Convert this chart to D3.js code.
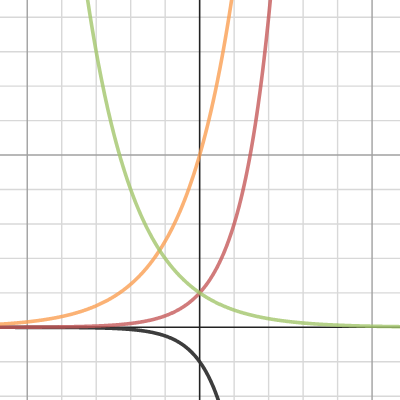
<!DOCTYPE html>
<html><head><meta charset="utf-8">
<script src="https://cdn.jsdelivr.net/npm/d3@7"></script>
<style>html,body{margin:0;padding:0;background:#fff;}svg{display:block;}</style>
</head><body>
<script>
// Domain (units)
const xDomain = [-5.79, 5.81];
const yDomain = [-2.11, 9.5];
const minorStep = 1;
const majorStep = 5;
// Functions (series), drawn bottom to top
const seriesNames = ["-4^x", "5·2^x", "3^x", "2^-x"];
const seriesBase = [4, 2, 3, 0.5];
const seriesCoef = [-1, 5, 1, 1];
const seriesColors = ["#333333", "#fa9f52", "#c55a5a", "#a3c56c"];
const seriesOpacity = [0.95, 0.8, 0.8, 0.8];

const W = 400, H = 400;
const svg = d3.select("body").append("svg").attr("width", W).attr("height", H);
const x = d3.scaleLinear().domain(xDomain).range([0, W]);
const y = d3.scaleLinear().domain(yDomain).range([H, 0]);

const g = svg.append("g");
const xs = d3.range(Math.ceil(xDomain[0]), Math.floor(xDomain[1]) + 1, minorStep);
const ys = d3.range(Math.ceil(yDomain[0]), Math.floor(yDomain[1]) + 1, minorStep);
// minor grid
g.selectAll(".vx").data(xs.filter(v => v % majorStep !== 0)).join("line")
  .attr("x1", d => x(d)).attr("x2", d => x(d)).attr("y1", 0).attr("y2", H)
  .attr("stroke", "#d8d8d8").attr("stroke-width", 1.4);
g.selectAll(".hy").data(ys.filter(v => v % majorStep !== 0)).join("line")
  .attr("y1", d => y(d)).attr("y2", d => y(d)).attr("x1", 0).attr("x2", W)
  .attr("stroke", "#d8d8d8").attr("stroke-width", 1.4);
// major grid
g.selectAll(".mx").data(xs.filter(v => v % majorStep === 0 && v !== 0)).join("line")
  .attr("x1", d => x(d)).attr("x2", d => x(d)).attr("y1", 0).attr("y2", H)
  .attr("stroke", "#a0a0a0").attr("stroke-width", 1.4);
g.selectAll(".my").data(ys.filter(v => v % majorStep === 0 && v !== 0)).join("line")
  .attr("y1", d => y(d)).attr("y2", d => y(d)).attr("x1", 0).attr("x2", W)
  .attr("stroke", "#a0a0a0").attr("stroke-width", 1.4);
// axes
g.append("line").attr("x1", x(0)).attr("x2", x(0)).attr("y1", 0).attr("y2", H)
  .attr("stroke", "#222").attr("stroke-width", 1.6);
g.append("line").attr("y1", y(0)).attr("y2", y(0)).attr("x1", 0).attr("x2", W)
  .attr("stroke", "#222").attr("stroke-width", 1.6);

// curves
const samples = d3.range(0, 801).map(i => xDomain[0] - 0.2 + (xDomain[1] - xDomain[0] + 0.4) * i / 800);
const line = d3.line().x(d => x(d[0])).y(d => y(d[1]));
const clip = svg.append("clipPath").attr("id", "c").append("rect").attr("width", W).attr("height", H);
seriesBase.forEach((b, i) => {
  const pts = samples.map(t => [t, seriesCoef[i] * Math.pow(b, t)])
    .filter(p => p[1] > yDomain[0] - 3 && p[1] < yDomain[1] + 3);
  svg.append("path").datum(pts).attr("d", line)
    .attr("fill", "none").attr("stroke", seriesColors[i])
    .attr("stroke-opacity", seriesOpacity[i]).attr("stroke-width", 3.6)
    .attr("stroke-linejoin", "round").attr("stroke-linecap", "round")
    .attr("clip-path", "url(#c)");
});
</script>
</body></html>
